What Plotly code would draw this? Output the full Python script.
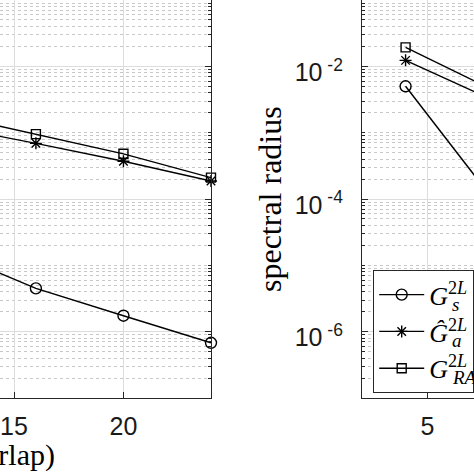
import numpy as np
import plotly.graph_objects as go

# left panel (overlap size on x)
n_left = [12, 16, 20, 24]
Gs_left = [1.6e-5, 4.5e-6, 1.74e-6, 6.8e-7]
Ga_left = [1.25e-3, 6.9e-4, 3.7e-4, 1.87e-4]
Gra_left = [1.86e-3, 9.5e-4, 4.8e-4, 2.1e-4]

# right panel
n_right = [4, 8]
Gs_right = [5.0e-3, 1.0e-4]
Ga_right = [1.23e-2, 3.1e-3]
Gra_right = [1.93e-2, 4.4e-3]

names = ['<i>G</i><sup>2<i>L</i></sup>', '<i>Ĝ</i><sup>2<i>L</i></sup>', '<i>G</i><sup>2<i>L</i></sup>']
subs = ['s', 'a', 'RA']
symbols = ['circle-open', 'asterisk-open', 'square-open']
msize = [11, 10, 9]

y_major = [1e-6, 1e-4, 1e-2]
y_major_text = ['10<sup> -6</sup>', '10<sup> -4</sup>', '10<sup> -2</sup>']
y_minor = [m * 10.0**e for e in range(-7, -1) for m in range(2, 10)] + [1e-7, 1e-5, 1e-3, 1e-1]

W, H = 474, 474
B = 76
PH = H - B
axcol = '#262626'

fig = go.Figure()
for i, ys in enumerate([Gs_left, Ga_left, Gra_left]):
    fig.add_trace(go.Scatter(x=n_left, y=ys, mode='lines+markers', xaxis='x', yaxis='y',
                             line=dict(color='black', width=1.4), cliponaxis=False,
                             marker=dict(symbol=symbols[i], size=msize[i], color='black', line=dict(width=1.4, color='black')),
                             showlegend=False))
for i, ys in enumerate([Gs_right, Ga_right, Gra_right]):
    fig.add_trace(go.Scatter(x=n_right, y=ys, mode='lines+markers', xaxis='x2', yaxis='y2',
                             line=dict(color='black', width=1.4), cliponaxis=False,
                             marker=dict(symbol=symbols[i], size=msize[i], color='black', line=dict(width=1.4, color='black')),
                             name=names[i]))

xcommon = dict(showline=True, linecolor=axcol, linewidth=1.2, ticks='inside', ticklen=6, tickcolor=axcol,
               showgrid=True, gridcolor='#dcdcdc', gridwidth=1, zeroline=False, ticklabelstandoff=6,
               tickfont=dict(family='Liberation Sans', size=25, color='#1a1a1a'))
ycommon = dict(type='log', range=[-7, -1], showline=True, linecolor=axcol, linewidth=1.2,
               ticks='inside', ticklen=6, tickcolor=axcol, tickmode='array', tickvals=y_major,
               showgrid=True, gridcolor='#dcdcdc', gridwidth=1, zeroline=False,
               minor=dict(tickmode='array', tickvals=y_minor, ticks='inside', ticklen=3, tickcolor=axcol,
                          showgrid=True, gridcolor='#c8c8c8', griddash='dot', gridwidth=1),
               tickfont=dict(family='Liberation Sans', size=25, color='#1a1a1a'))

fig.update_layout(
    width=W, height=H, margin=dict(l=0, r=0, t=0, b=B),
    paper_bgcolor='white', plot_bgcolor='white',
    xaxis=dict(domain=[0, 211 / W], range=[14.36, 24], tickvals=[5, 10, 15, 20], anchor='y', **xcommon),
    yaxis=dict(domain=[0, 1], side='right', showticklabels=False, anchor='x', ticktext=y_major_text, **ycommon),
    xaxis2=dict(domain=[362 / W, 1], range=[2, 7.14], tickvals=[5, 10, 15, 20], anchor='y2', **xcommon),
    yaxis2=dict(domain=[0, 1], anchor='x2', ticktext=y_major_text, ticklabelstandoff=13, ticklabelshift=6, **ycommon),
    legend=dict(x=373 / W, y=1 - 270 / PH, xanchor='left', yanchor='top', itemwidth=45,
                bgcolor='white', bordercolor='#262626', borderwidth=1.2,
                font=dict(family='Liberation Serif', size=26, color='black')),
)

# subscripts of the legend entries
for k, s in enumerate(subs):
    fig.add_annotation(text='<i>' + s + '</i>', xref='paper', yref='paper', x=450 / W, y=1 - (304 + 36.5 * k) / PH,
                       xanchor='left', yanchor='middle', showarrow=False,
                       font=dict(family='Liberation Serif', size=19, color='black'))

# axis titles as annotations (parts of them fall outside the visible area)
fig.add_annotation(text='(overlap)', xref='paper', yref='paper', x=57 / W, y=-(455 - PH) / PH,
                   xanchor='right', yanchor='middle', showarrow=False,
                   font=dict(family='Liberation Serif', size=30, color='black'))
fig.add_annotation(text='spectral radius', xref='paper', yref='paper', x=270 / W, y=0.5, textangle=-90,
                   xanchor='center', yanchor='middle', showarrow=False,
                   font=dict(family='Liberation Serif', size=32, color='black'))

fig.write_html('out.html', config={'displayModeBar': False},
               post_script="document.body.style.margin='0';")
